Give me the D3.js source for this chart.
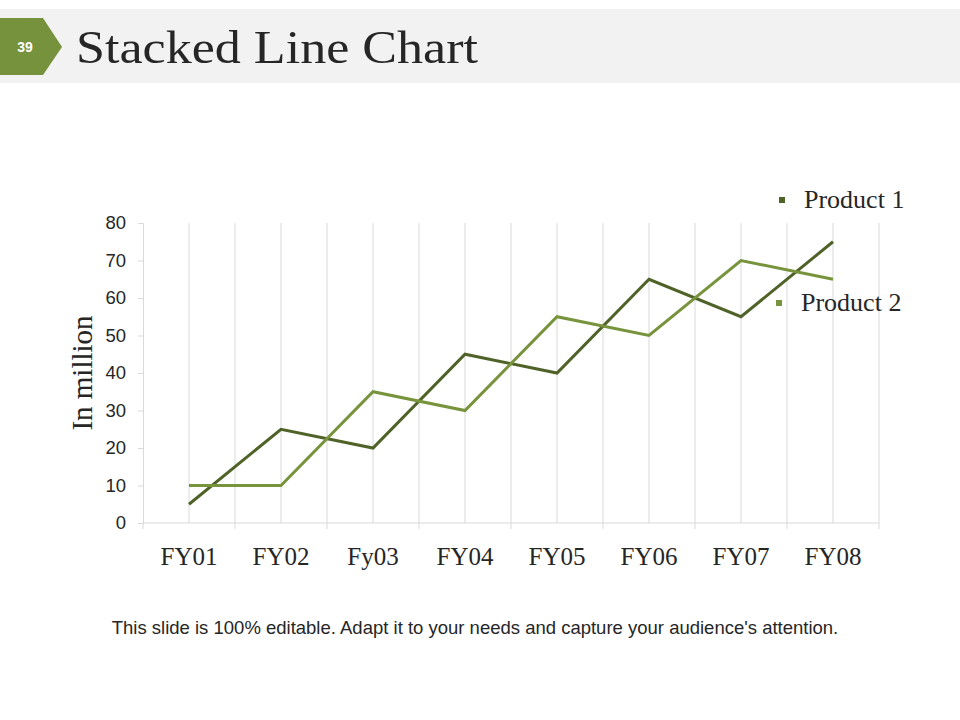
<!DOCTYPE html>
<html>
<head>
<meta charset="utf-8">
<script src="https://cdn.jsdelivr.net/npm/d3@7"></script>
<style>
  body { margin: 0; background: #fff; }
  svg { display: block; }
  .serif { font-family: "Liberation Serif", "DejaVu Serif", serif; }
  .sans { font-family: "Liberation Sans", Arial, sans-serif; }
</style>
</head>
<body>
<svg id="chart" width="960" height="720"></svg>
<script>
// chart data
const categories = ['FY01', 'FY02', 'Fy03', 'FY04', 'FY05', 'FY06', 'FY07', 'FY08'];
const product1 = [5, 25, 20, 45, 40, 65, 55, 75];
const product2 = [10, 10, 35, 30, 55, 50, 70, 65];
const seriesNames = ['Product 1', 'Product 2'];
const yTicks = [0, 10, 20, 30, 40, 50, 60, 70, 80];

const svg = d3.select('#chart');

// header band + slide number badge
svg.append('rect')
  .attr('x', 0).attr('y', 9)
  .attr('width', 960).attr('height', 74)
  .attr('fill', '#f2f2f2');

svg.append('path')
  .attr('d', 'M0,18 L43,18 L62,47 L43,75 L0,75 Z')
  .attr('fill', '#76923c');

svg.append('text')
  .attr('class', 'sans')
  .attr('x', 25).attr('y', 52)
  .attr('text-anchor', 'middle')
  .attr('font-size', 14)
  .attr('font-weight', 'bold')
  .attr('fill', '#fff')
  .text('39');

const title = svg.append('text')
  .attr('class', 'serif')
  .attr('x', 76).attr('y', 63)
  .attr('font-size', 46)
  .attr('fill', '#262626')
  .text('Stacked Line Chart');
// squeeze the title to the width it has on the slide
title.attr('textLength', 402).attr('lengthAdjust', 'spacingAndGlyphs');

// plot area
const plotLeft = 143, plotRight = 879, plotTop = 223, plotBottom = 523;

const x = d3.scaleBand().domain(categories).range([plotLeft, plotRight]);
const y = d3.scaleLinear().domain([0, 80]).range([plotBottom, plotTop]);

const center = (c) => x(c) + x.bandwidth() / 2;

// vertical gridlines at band edges and band centres
const gridX = [];
categories.forEach((c) => {
  gridX.push(x(c) + x.bandwidth() / 2);
  gridX.push(x(c) + x.bandwidth());
});

svg.append('g')
  .selectAll('line')
  .data(gridX)
  .enter()
  .append('line')
  .attr('x1', (d) => d).attr('x2', (d) => d)
  .attr('y1', plotTop).attr('y2', plotBottom)
  .attr('stroke', '#d9d9d9')
  .attr('stroke-width', 1);

// y axis
const yAxis = svg.append('g')
  .attr('transform', `translate(${plotLeft},0)`)
  .call(d3.axisLeft(y).tickValues(yTicks).tickSize(5).tickPadding(12));
yAxis.select('.domain').attr('stroke', '#d9d9d9');
yAxis.selectAll('.tick line').attr('stroke', '#d9d9d9');
yAxis.selectAll('.tick text')
  .attr('class', 'sans')
  .attr('font-size', 18.5)
  .attr('fill', '#262626');

// x axis: ticks on band edges, labels at band centres
const xAxis = svg.append('g')
  .attr('transform', `translate(0,${plotBottom})`);
xAxis.append('line')
  .attr('x1', plotLeft).attr('x2', plotRight)
  .attr('stroke', '#d9d9d9');
xAxis.selectAll('.edge')
  .data([plotLeft, ...categories.map((c) => x(c) + x.bandwidth())])
  .enter()
  .append('line')
  .attr('class', 'edge')
  .attr('x1', (d) => d).attr('x2', (d) => d)
  .attr('y1', 0).attr('y2', 6)
  .attr('stroke', '#d9d9d9');
xAxis.selectAll('.lbl')
  .data(categories)
  .enter()
  .append('text')
  .attr('class', 'lbl serif')
  .attr('x', (d) => center(d))
  .attr('y', 42)
  .attr('text-anchor', 'middle')
  .attr('font-size', 25)
  .attr('fill', '#262626')
  .text((d) => d);

// y axis title
svg.append('text')
  .attr('class', 'serif')
  .attr('transform', 'translate(92,373) rotate(-90)')
  .attr('text-anchor', 'middle')
  .attr('font-size', 29)
  .attr('fill', '#262626')
  .text('In million');

// lines
const colors = ['#4f6228', '#77933c'];
const line = d3.line()
  .x((d, i) => center(categories[i]))
  .y((d) => y(d));

[product1, product2].forEach((vals, k) => {
  svg.append('path')
    .datum(vals)
    .attr('fill', 'none')
    .attr('stroke', colors[k])
    .attr('stroke-width', 3)
    .attr('stroke-linejoin', 'miter')
    .attr('d', line);
});

// legend
const legendPos = [{ mx: 779, tx: 804, y: 200 }, { mx: 776, tx: 801, y: 303 }];
seriesNames.forEach((name, k) => {
  const p = legendPos[k];
  svg.append('rect')
    .attr('x', p.mx).attr('y', p.y - 3)
    .attr('width', 6).attr('height', 6)
    .attr('fill', colors[k]);
  svg.append('text')
    .attr('class', 'serif')
    .attr('x', p.tx).attr('y', p.y + 8)
    .attr('font-size', 26)
    .attr('fill', '#262626')
    .text(name);
});

// footer note
svg.append('text')
  .attr('class', 'sans')
  .attr('x', 475).attr('y', 634)
  .attr('text-anchor', 'middle')
  .attr('font-size', 18.5)
  .attr('fill', '#262626')
  .text("This slide is 100% editable. Adapt it to your needs and capture your audience's attention.");
</script>
</body>
</html>
